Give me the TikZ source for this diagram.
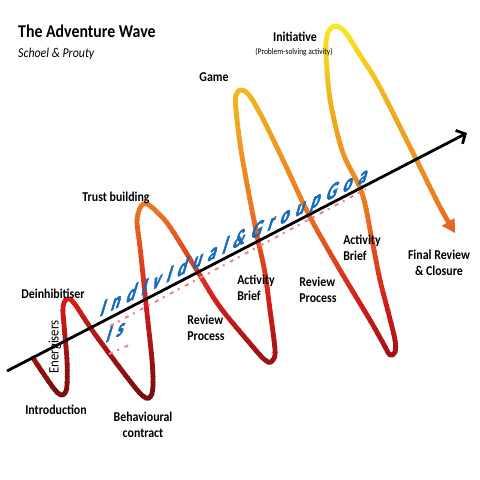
\documentclass[tikz,border=0pt]{standalone}
\usepackage{fontspec}
\setmainfont{Carlito}
\newfontfamily\cf[FakeStretch=0.88]{Carlito}
\newfontfamily\cn[FakeStretch=0.72,FakeBold=2.5]{Carlito}
\usetikzlibrary{arrows.meta}
\definecolor{goalblue}{RGB}{26,108,186}
\definecolor{pinkd}{RGB}{238,130,145}
\begin{document}
\begin{tikzpicture}[x=1pt,y=-1pt,
  lab/.style={font=\cf\bfseries\fontsize{13.5}{16.5}\selectfont, inner sep=0pt, text=black},
  wave/.style={line width=4.8pt, line cap=round, line join=round, -{Triangle[length=13pt,width=14pt]}},
  axisline/.style={line width=2.8pt, -{Straight Barb[length=7pt,width=15pt]}},
  goaltext/.style={font=\cn\bfseries\fontsize{26}{28}\selectfont, text=goalblue, inner sep=0pt, cm={0.891,0.454,0.292,0.956,(0,0)}},
  pinkdash/.style={draw=pinkd, line width=2pt, dash pattern=on 4pt off 5pt on 2pt off 6pt}
]
\useasboundingbox[fill=white] (0,0) rectangle (480,480);
\def\wavepath{plot[smooth,tension=0.55] coordinates {
(33,358) (45,376) (55,390) (61,395) (65,393) (67,385) (67,360) (64,325) (63,307) (67,299) (74,303) (92,330) (120,368) (138,391) (146,398) (151,396) (153,385) (152,360) (147,313) (140,247) (137,221) (141,206) (147,204) (156,211) (170,227) (198,272) (220,307) (253,347) (265,360) (271,362) (275,355) (274,340) (270,310) (265,273) (258,240) (250,200) (241,150) (236,110) (236,95) (241,90) (249,95) (262,117) (283,160) (310,217) (340,270) (370,320) (383,343) (390,355) (395,352) (395,340) (389,315) (380,280) (372,240) (362,193) (343,153) (331,105) (327,70) (326,42) (330,29) (337,26) (346,33) (360,55) (377,82) (403,133) (420,167) (440,207) (455,233)}}
% wave, coloured by height
\foreach \yy in {16,22,...,410}{
  \pgfmathsetmacro\yc{min(max(\yy+3,27),395)}
  \pgfmathsetmacro\ta{(\yc-27)/68}
  \pgfmathsetmacro\tb{(\yc-95)/110}
  \pgfmathsetmacro\tc{(\yc-205)/95}
  \pgfmathsetmacro\td{(\yc-300)/95}
  \pgfmathtruncatemacro\wR{\yc<95 ? 247-5*\ta : (\yc<205 ? 242-6*\tb : (\yc<300 ? 236-22*\tc : 214-94*\td))}
  \pgfmathtruncatemacro\wG{\yc<95 ? 234-52*\ta : (\yc<205 ? 182-60*\tb : (\yc<300 ? 122-92*\tc : 30-16*\td))}
  \pgfmathtruncatemacro\wB{\yc<95 ? 30 : (\yc<205 ? 30+4*\tb : (\yc<300 ? 34-6*\tc : 28-14*\td))}
  \definecolor{wc}{RGB}{\wR,\wG,\wB}
  \begin{scope}
    \clip (-10,\yy) rectangle (490,\yy+6.6);
    \draw[wave,wc] \wavepath;
  \end{scope}
}
% axis
\coordinate (a0) at (7,371);
\coordinate (a1) at (467,133);
\draw[axisline] (a0) -- (a1);
% goal text
\def\gp{\kern7.1pt}
\node[goaltext, anchor=base west] (goal1) at (99,317) {I\gp n\gp d\gp I\gp v\gp I\gp d\gp u\gp a\gp l\gp \&\gp G\gp r\gp o\gp u\gp p\gp G\gp o\gp a};
\node[goaltext, anchor=base west] (goal2) at (105,343) {l\gp s};
\coordinate (pd1) at (110,326);
\coordinate (pd2) at (366,189);
\coordinate (pd3) at (109,354);
\coordinate (pd4) at (129,345);
\draw[pinkdash] (pd1) -- (pd2);
\draw[pinkdash] (pd3) -- (pd4);
% titles
\node[font=\cf\bfseries\fontsize{18}{20}\selectfont, anchor=base west, inner sep=0pt] (title) at (18,37) {The Adventure Wave};
\node[font=\cf\itshape\fontsize{13.5}{16}\selectfont, anchor=base west, inner sep=0pt] (sub) at (18,57) {Schoel \& Prouty};
% labels
\node[lab] (game) at (214,77) {Game};
\node[lab] (init) at (295,37) {Initiative};
\node[font=\cf\fontsize{8.5}{10}\selectfont, inner sep=0pt] (prob) at (294,52) {(Problem-solving activity)};
\node[lab] (trust) at (116,198) {Trust building};
\node[lab] (deinh) at (53,294) {Deinhibitiser};
\node[font=\cf\fontsize{14.5}{16}\selectfont, inner sep=0pt, rotate=90] (ener) at (55,347) {Energisers};
\node[lab] (intro) at (56,410) {Introduction};
\node[lab, align=center] (behav) at (143,425) {Behavioural\\contract};
\node[lab, align=left] (rev1) at (206,328) {Review\\Process};
\node[lab, align=left] (act1) at (256,288) {Activity\\Brief};
\node[lab, align=left] (rev2) at (318,290) {Review\\Process};
\node[lab, align=left] (act2) at (362,248) {Activity\\Brief};
\node[lab, align=center] (final) at (439,263) {Final Review\\\& Closure};
\end{tikzpicture}
\end{document}
